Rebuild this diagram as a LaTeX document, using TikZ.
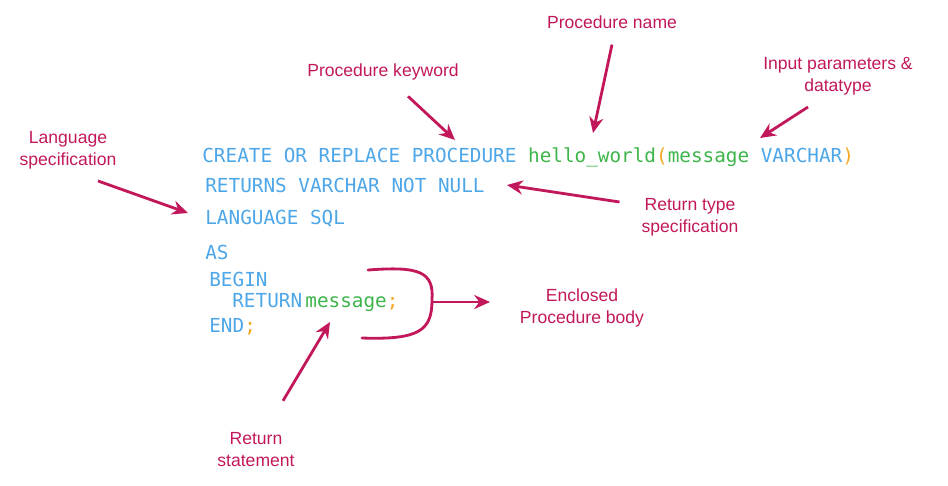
\documentclass[tikz,border=0pt]{standalone}
\usepackage{fontspec}
\setmonofont{DejaVu Sans Mono}
\setsansfont{Liberation Sans}
\usetikzlibrary{arrows.meta}
\definecolor{kwblue}{HTML}{4DA6E8}
\definecolor{idgreen}{HTML}{3DB54A}
\definecolor{parorange}{HTML}{F5A623}
\definecolor{notepink}{HTML}{C2185B}
\tikzset{
  code/.style={anchor=west,inner sep=0pt,font=\ttfamily\fontsize{11}{13}\selectfont,text=kwblue},
  note/.style={align=center,inner sep=1pt,font=\sffamily\fontsize{10}{12.5}\selectfont,text=notepink},
  pointer/.style={draw=notepink,line width=1.6pt,-{Stealth[length=9pt,width=8pt]}}
}
\begin{document}
\begin{tikzpicture}[x=0.02cm,y=-0.02cm]
 \useasboundingbox (0,0) rectangle (948,485);
 % code lines
 \node[code] (create) at (202,157) {CREATE OR REPLACE PROCEDURE \textcolor{idgreen}{hello\_world}\textcolor{parorange}{(}\textcolor{idgreen}{message} VARCHAR\textcolor{parorange}{)}};
 \node[code] (returns) at (205,185) {RETURNS VARCHAR NOT NULL};
 \node[code] (lang) at (205,219) {LANGUAGE SQL};
 \node[code] (as) at (205,252) {AS};
 \node[code] (begin) at (209,279) {BEGIN};
 \node[code] (ret) at (232,303) {RETURN\,\textcolor{idgreen}{message}\textcolor{parorange}{;}};
 \node[code] (end) at (209,327) {END\textcolor{parorange}{;}};
 % notes
 \node[note] (pname) at (612,22) {Procedure name};
 \node[note] (pkey) at (383,72) {Procedure keyword};
 \node[note] (params) at (838,76) {Input parameters \&\\datatype};
 \node[note] (langspec) at (68,150) {Language\\specification};
 \node[note] (rtype) at (690,217) {Return type\\specification};
 \node[note] (body) at (582,308) {Enclosed\\Procedure body};
 \node[note] (rstmt) at (256,450) {Return\\statement};
 % arrow heads
 \coordinate (pnameTip) at (593,133);
 \coordinate (pkeyTip) at (455,140);
 \coordinate (paramsTip) at (760,138);
 \coordinate (langTip) at (188,213);
 \coordinate (rtypeTip) at (507,185);
 \coordinate (bodyTip) at (490,302);
 \coordinate (rstmtTip) at (330,322);
 \draw[pointer] (pname.south) ++(0,14) -- (pnameTip);
 \draw[pointer] (pkey.south) ++(25,14) -- (pkeyTip);
 \draw[pointer] (params.south) ++(-30,10) -- (paramsTip);
 \draw[pointer] (langspec.south) ++(30,10) -- (langTip);
 \draw[pointer] (rtype.west) ++(-20,-15) -- (rtypeTip);
 \draw[pointer] (rstmt.north) ++(27,-30) -- (rstmtTip);
 % brace
 \draw[notepink,line width=1.6pt,line cap=round]
   (368,270) .. controls (420,266) and (434,272) .. (432,300)
   .. controls (432,330) and (420,340) .. (362,338);
 \coordinate (braceMid) at (432,302);
 \draw[pointer] (braceMid) -- (bodyTip);
\end{tikzpicture}
\end{document}
